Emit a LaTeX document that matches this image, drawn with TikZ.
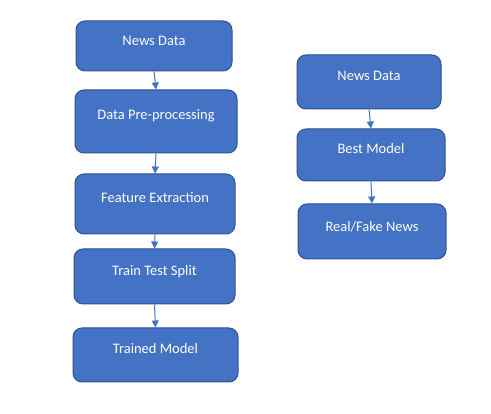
\documentclass[tikz,border=0pt]{standalone}
\usepackage{fontspec}
\setmainfont{Carlito}
\usetikzlibrary{arrows.meta}
\definecolor{boxfill}{HTML}{4472C4}
\definecolor{boxline}{HTML}{2F528F}
\definecolor{arrcol}{HTML}{4472C4}
\tikzset{
  box/.style={draw=boxline, fill=boxfill, line width=1pt, rounded corners=9pt, inner sep=0pt},
  boxtext/.style={text=white, font=\fontsize{14.5}{17}\selectfont, inner sep=0pt},
  arr/.style={draw=arrcol, line width=1pt, -{Triangle[length=7pt,width=7pt]}}
}
\begin{document}
\begin{tikzpicture}[x=1pt,y=-1pt]
\useasboundingbox (0,0) rectangle (491,414);
% left column
\node[box, minimum width=156, minimum height=50, label={[boxtext,yshift=5]center:News Data}] (n1) at (154,46) {};
\node[box, minimum width=162, minimum height=63, label={[boxtext,yshift=6]center:Data Pre-processing}] (n2) at (156,121.5) {};
\node[box, minimum width=160, minimum height=60, label={[boxtext,yshift=6]center:Feature Extraction}] (n3) at (155,204) {};
\node[box, minimum width=161, minimum height=55, label={[boxtext,yshift=5]center:Train Test Split}] (n4) at (154.5,276.5) {};
\node[box, minimum width=165, minimum height=54, label={[boxtext,yshift=6]center:Trained Model}] (n5) at (155.5,355) {};
% right column
\node[box, minimum width=144, minimum height=54, label={[boxtext,yshift=6]center:News Data}] (m1) at (369,82) {};
\node[box, minimum width=148, minimum height=52, label={[boxtext,yshift=6]center:Best Model}] (m2) at (371,155) {};
\node[box, minimum width=148, minimum height=55, label={[boxtext,yshift=5]center:Real/Fake News}] (m3) at (372,231.5) {};
% arrows
\draw[arr] (n1.south) -- (n2.north);
\draw[arr] (n2.south) -- (n3.north);
\draw[arr] (n3.south) -- (n4.north);
\draw[arr] (n4.south) -- (n5.north);
\draw[arr] (m1.south) -- (m2.north);
\draw[arr] (m2.south) -- (m3.north);
\end{tikzpicture}
\end{document}
